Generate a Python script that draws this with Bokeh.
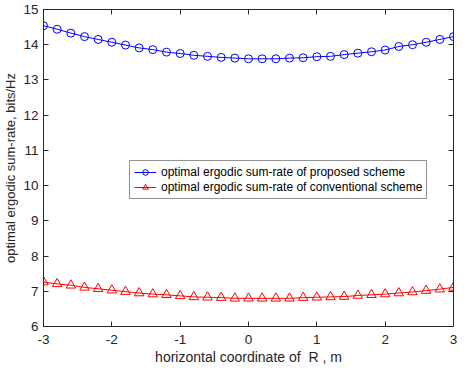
from bokeh.plotting import figure
from bokeh.models import LinearAxis, FixedTicker, Range1d, Legend, LegendItem, CustomJSTickFormatter
from bokeh.embed import file_html
from bokeh.resources import INLINE

x_pos = [round(-3 + 0.2 * i, 1) for i in range(31)]
proposed = [14.54, 14.44, 14.33, 14.23, 14.15, 14.07, 13.99, 13.91, 13.86, 13.79,
            13.75, 13.70, 13.67, 13.64, 13.62, 13.60, 13.60, 13.60, 13.62, 13.63,
            13.66, 13.67, 13.72, 13.76, 13.80, 13.85, 13.95, 14.00, 14.07, 14.15, 14.23]
conventional = [7.26, 7.21, 7.17, 7.11, 7.07, 7.03, 6.99, 6.95, 6.92, 6.90,
                6.87, 6.84, 6.83, 6.82, 6.80, 6.80, 6.80, 6.80, 6.80, 6.82,
                6.83, 6.84, 6.85, 6.88, 6.90, 6.92, 6.95, 6.98, 7.02, 7.06, 7.11]
x_ticks = [-3, -2, -1, 0, 1, 2, 3]
y_ticks = [6, 7, 8, 9, 10, 11, 12, 13, 14, 15]
labels = ["optimal ergodic sum-rate of proposed scheme",
          "optimal ergodic sum-rate of conventional scheme"]
x_title = "horizontal coordinate of\u00a0\u00a0R\u00a0,\u00a0m"
y_title = "optimal ergodic sum-rate, bits/Hz"

FONT = "Liberation Sans"
AX = "#262626"

p = figure(width=458, height=367, output_backend="svg", toolbar_location=None,
           x_range=Range1d(-3, 3), y_range=Range1d(6, 15),
           min_border_left=28, min_border_right=5, min_border_top=9, min_border_bottom=30)
p.outline_line_color = None
p.xgrid.visible = False
p.ygrid.visible = False

def style(ax):
    ax.major_tick_in = 5
    ax.major_tick_out = 0
    ax.minor_tick_in = 0
    ax.minor_tick_out = 0
    ax.axis_line_color = AX
    ax.major_tick_line_color = AX
    ax.major_label_text_font = FONT
    ax.major_label_text_font_size = "13.5px"
    ax.major_label_text_color = AX
    ax.axis_label_text_font = FONT
    ax.axis_label_text_font_style = "normal"
    ax.axis_label_text_color = AX

plain = CustomJSTickFormatter(code="return tick.toString()")
p.xaxis.ticker = FixedTicker(ticks=x_ticks)
p.yaxis.ticker = FixedTicker(ticks=y_ticks)
p.xaxis.formatter = plain
p.yaxis.formatter = plain
p.xaxis.axis_label = x_title
p.yaxis.axis_label = y_title
style(p.xaxis[0])
style(p.yaxis[0])
p.xaxis.axis_label_text_font_size = "14px"
p.yaxis.axis_label_text_font_size = "13px"
p.xaxis.major_label_standoff = 8
p.xaxis.axis_label_standoff = 2
p.yaxis.major_label_standoff = 5
p.yaxis.axis_label_standoff = 2

blank = CustomJSTickFormatter(code="return ''")
top = LinearAxis(ticker=FixedTicker(ticks=x_ticks), formatter=blank)
right = LinearAxis(ticker=FixedTicker(ticks=y_ticks), formatter=blank)
style(top)
style(right)
top.major_label_standoff = 0
right.major_label_standoff = 0
p.add_layout(top, "above")
p.add_layout(right, "right")

l1 = p.line(x_pos, proposed, line_color="#0000FF", line_width=1)
s1 = p.scatter(x_pos, proposed, marker="circle", size=8, line_color="#0000FF",
               fill_color=None, line_width=1)
l2 = p.line(x_pos, conventional, line_color="#FF0000", line_width=1)
s2 = p.scatter(x_pos, conventional, marker="triangle", size=9.5, line_color="#FF0000",
               fill_color=None, line_width=1)

legend = Legend(items=[LegendItem(label=labels[0], renderers=[l1, s1]),
                       LegendItem(label=labels[1], renderers=[l2, s2])],
                location=(86, 127))
legend.label_text_font = FONT
legend.label_text_font_size = "12px"
legend.label_text_color = "#000000"
legend.label_height = 14
legend.label_standoff = 5
legend.glyph_width = 22
legend.glyph_height = 14
legend.spacing = 1
legend.padding = 4
legend.margin = 0
legend.border_line_color = AX
legend.border_line_width = 1
legend.background_fill_alpha = 1
p.add_layout(legend)

open("out.html", "w").write(file_html(p, INLINE))
